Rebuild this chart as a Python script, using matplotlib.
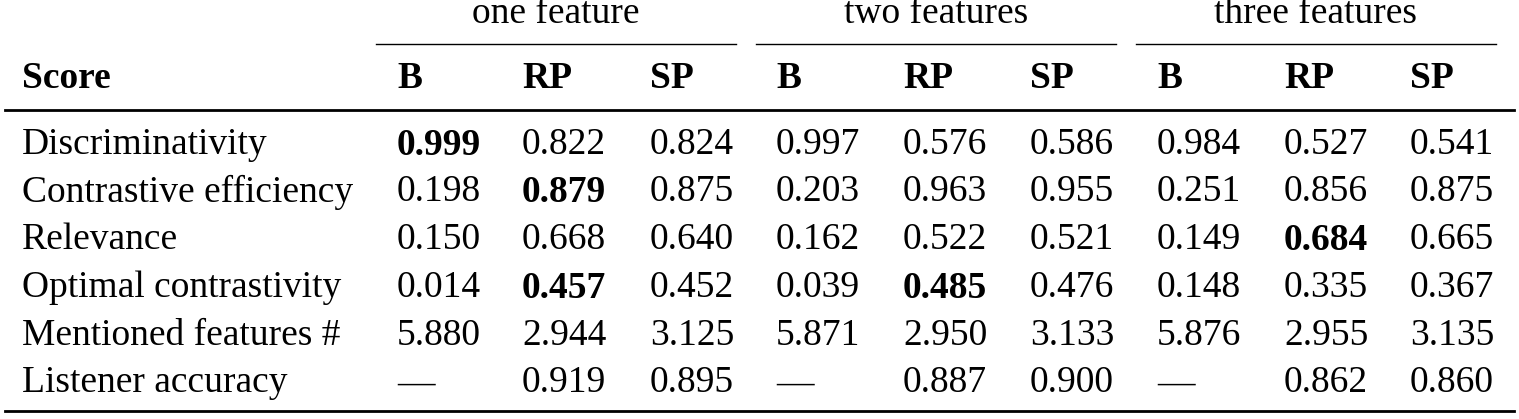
import matplotlib
matplotlib.use("Agg")
import matplotlib.pyplot as plt

groups = ["one feature", "two features", "three features"]
subcols = ["B", "RP", "SP"]
scores = ["Discriminativity", "Contrastive efficiency", "Relevance",
          "Optimal contrastivity", "Mentioned features #", "Listener accuracy"]
values = [
    ["0.999", "0.822", "0.824", "0.997", "0.576", "0.586", "0.984", "0.527", "0.541"],
    ["0.198", "0.879", "0.875", "0.203", "0.963", "0.955", "0.251", "0.856", "0.875"],
    ["0.150", "0.668", "0.640", "0.162", "0.522", "0.521", "0.149", "0.684", "0.665"],
    ["0.014", "0.457", "0.452", "0.039", "0.485", "0.476", "0.148", "0.335", "0.367"],
    ["5.880", "2.944", "3.125", "5.871", "2.950", "3.133", "5.876", "2.955", "3.135"],
    ["—", "0.919", "0.895", "—", "0.887", "0.900", "—", "0.862", "0.860"],
]
bold = {(0, 0), (1, 1), (2, 7), (3, 1), (3, 4)}

W, H = 1519, 419
fig = plt.figure(figsize=(W / 100, H / 100), dpi=100)
ax = fig.add_axes([0, 0, 1, 1])
ax.set_xlim(0, W)
ax.set_ylim(H, 0)
ax.axis("off")
fs = 27
fam = "Liberation Serif"

col_x = [397, 522, 650, 776, 903, 1030, 1157, 1284, 1410]
group_span = [(376, 736), (756, 1116), (1136, 1496)]
row_y = [145, 192, 240, 288, 336, 383]

for g, (a, b) in zip(groups, group_span):
    ax.text((a + b) / 2, 14, g, ha="center", va="center", fontsize=fs, family=fam)
    ax.plot([a, b], [44, 44], color="black", lw=1)
ax.text(22, 79, "Score", ha="left", va="center", fontsize=fs, family=fam, weight="bold")
for i, x in enumerate(col_x):
    ax.text(x, 79, subcols[i % 3], ha="left", va="center", fontsize=fs, family=fam, weight="bold")
ax.plot([5, 1514], [110, 110], color="black", lw=2)
for r, (s, vals) in enumerate(zip(scores, values)):
    y = row_y[r]
    ax.text(22, y, s, ha="left", va="center", fontsize=fs, family=fam)
    for c, v in enumerate(vals):
        ax.text(col_x[c], y, v, ha="left", va="center", fontsize=fs, family=fam,
                weight="bold" if (r, c) in bold else "normal")
ax.plot([5, 1514], [411, 411], color="black", lw=2)
fig.savefig("out.png", dpi=100)
